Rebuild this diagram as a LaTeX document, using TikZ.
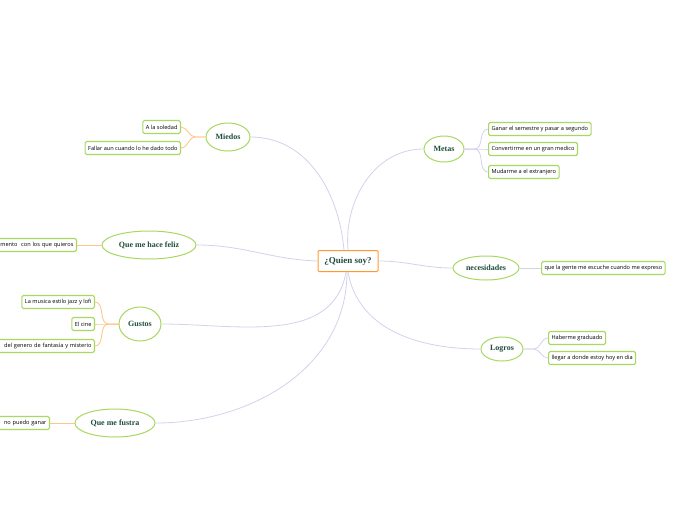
\documentclass[tikz,border=0pt]{standalone}
\usepackage{fontspec}
\usetikzlibrary{shapes.geometric}
\setmainfont{Liberation Serif}
\newfontfamily\smallsans{Open Sans}
\definecolor{lgreen}{HTML}{A8D85F}
\definecolor{ttext}{HTML}{1E4D3C}
\begin{document}
\begin{tikzpicture}[x=1pt,y=-1pt,
  topic/.style={draw=lgreen, line width=1pt, ellipse, fill=white, font=\bfseries\fontsize{8}{9}\selectfont, text=ttext, inner sep=0pt},
  leaf/.style={draw=lgreen, line width=1.1pt, rounded corners=1.5pt, fill=white, font=\smallsans\fontsize{5.6}{6.5}\selectfont, inner sep=3pt, minimum height=13pt},
  mainln/.style={draw=blue!40!gray!25, line width=0.8pt},
  orln/.style={draw=orange!45, line width=0.9pt},
  rtln/.style={draw=blue!40!gray!25, line width=0.8pt}]
\useasboundingbox (0,0) rectangle (696,520);
\node[draw=orange!80, line width=1pt, rounded corners=1pt, minimum width=60pt, minimum height=21pt, font=\bfseries\fontsize{9}{10}\selectfont, text=ttext] (c) at (348,261) {¿Quien soy?};

\node[topic, minimum width=44pt, minimum height=28pt] (mie) at (228,137) {Miedos};
\node[topic, minimum width=94pt, minimum height=28pt] (fel) at (149,245) {Que me hace feliz};
\node[topic, minimum width=42pt, minimum height=34pt] (gus) at (140,324) {Gustos};
\node[topic, minimum width=80pt, minimum height=28pt] (fus) at (115,423) {Que me fustra};
\node[topic, minimum width=40pt, minimum height=26pt] (met) at (444,149) {Metas};
\node[topic, minimum width=66pt, minimum height=24pt] (nec) at (486,268) {necesidades};
\node[topic, minimum width=42pt, minimum height=24pt] (log) at (502,349) {Logros};

\draw[mainln] (c.north) ++(-4,0) coordinate (c1) to[out=95,in=0] (mie.east);
\draw[mainln] (c.north) to[out=95,in=180] (met.west);
\draw[mainln] (c.east) to[out=0,in=180] (nec.west);
\draw[mainln] (c.south) to[out=-80,in=180] (log.west);
\draw[mainln] (c.west) to[out=178,in=0] (fel.east);
\draw[mainln] (c.south) ++(-2,0) coordinate (c2) to[out=-100,in=0] (gus.east);
\draw[mainln] (c.south) ++(-1,0) coordinate (c3) to[out=-90,in=0] (fus.east);

\node[leaf, anchor=east] (m1) at (181,127) {A la soledad};
\node[leaf, anchor=east] (m2) at (181,148) {Fallar aun cuando lo he dado todo};
\node[leaf, anchor=east, text width=150pt, align=right] (f1) at (77,245) {mento\ \ con los que quieros};
\node[leaf, anchor=east] (g1) at (95,302) {La musica estilo jazz y lofi};
\node[leaf, anchor=east] (g2) at (95,324) {El cine};
\node[leaf, anchor=east, text width=150pt, align=right] (g3) at (95,346) {del genero de fantasía y misterio};
\node[leaf, anchor=east, text width=120pt, align=right] (q1) at (50,423) {no puedo ganar};

\node[leaf, anchor=west] (t1) at (488,129) {Ganar el semestre y pasar a segundo};
\node[leaf, anchor=west] (t2) at (488,149) {Convertirme en un gran medico};
\node[leaf, anchor=west] (t3) at (488,172) {Mudarme a el extranjero};
\node[leaf, anchor=west] (n1) at (541,268) {que la gente me escuche cuando me expreso};
\node[leaf, anchor=west] (l1) at (548,338) {Haberme graduado};
\node[leaf, anchor=west] (l2) at (548,358) {llegar a donde estoy hoy en dia};

\foreach \a/\b in {mie/m1,mie/m2,gus/g1,gus/g2,gus/g3}
  \draw[orln] (\a.west) -- ++(-10,0) to[out=180,in=0] (\b.east);
\draw[orln] (fel.west) -- (f1.east);
\draw[orln] (fus.west) -- (q1.east);
\foreach \a/\b in {met/t1,met/t2,met/t3,log/l1,log/l2}
  \draw[rtln] (\a.east) -- ++(10,0) to[out=0,in=180] (\b.west);
\draw[rtln] (nec.east) -- (n1.west);
\end{tikzpicture}
\end{document}
